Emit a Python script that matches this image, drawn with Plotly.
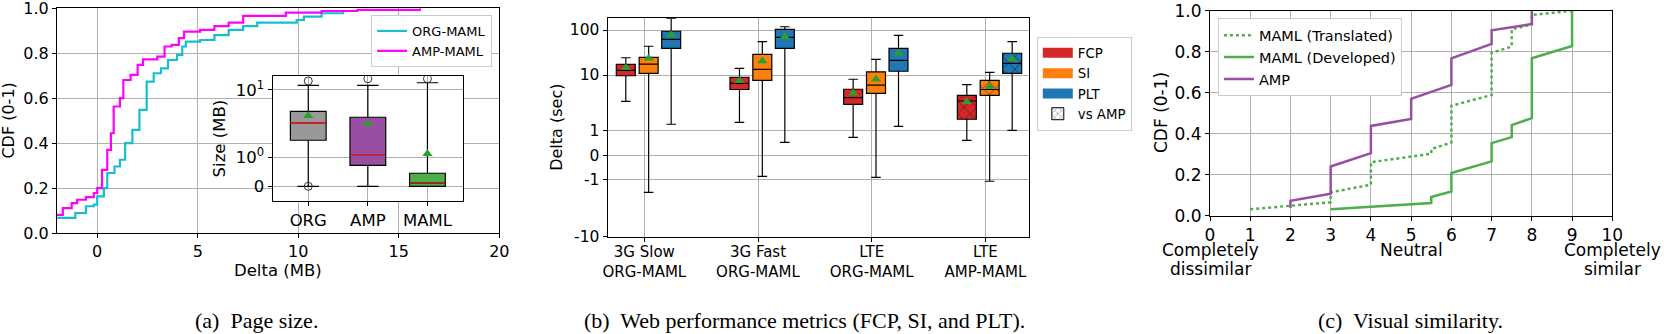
import numpy as np
import plotly.graph_objects as go

W, H = 1664, 334
FONT = "DejaVu Sans"
SERIF = "Liberation Serif"

# ---------------- panel (a): CDF of page-size delta ----------------
org_x = [-2.0, -1.36, -1.09, -0.56, -0.17, 0.0, 0.33, 0.5, 0.86, 1.13, 1.39, 1.75, 2.1, 2.46,
         2.81, 3.17, 3.52, 3.97, 4.23, 4.41, 5.12, 5.83, 6.54, 7.26, 7.96, 9.92, 10.28, 11.16, 12.23]
org_y = [0.067, 0.067, 0.089, 0.119, 0.126, 0.163, 0.2, 0.267, 0.296, 0.326, 0.4, 0.459, 0.548, 0.674,
         0.711, 0.733, 0.77, 0.793, 0.83, 0.852, 0.859, 0.881, 0.904, 0.921, 0.936, 0.948, 0.963, 0.978, 0.985]
amp_x = [-2.0, -1.71, -1.27, -1.0, -0.56, -0.17, 0.0, 0.24, 0.5, 0.68, 0.82, 1.13, 1.3, 1.66, 2.01,
         2.28, 2.99, 3.35, 3.7, 4.06, 4.32, 5.12, 5.83, 6.54, 7.26, 9.38, 11.16, 12.94, 16.05]
amp_y = [0.081, 0.111, 0.133, 0.148, 0.16, 0.178, 0.2, 0.281, 0.37, 0.444, 0.563, 0.6, 0.681, 0.704, 0.748,
         0.773, 0.785, 0.83, 0.837, 0.867, 0.896, 0.904, 0.921, 0.936, 0.966, 0.981, 0.988, 0.993, 1.0]
a_xticks = [0, 5, 10, 15, 20]

# inset: page size boxes (MB)
ins_cats = ["ORG", "AMP", "MAML"]
ins_colors = ["#999999", "#984ea3", "#4daf4a"]
ins_q1 = [1.79, 0.72, 0.0]
ins_med = [3.23, 1.07, 0.11]
ins_q3 = [4.82, 3.93, 0.45]
ins_lo = [0.0, 0.0, 0.0]
ins_hi = [11.7, 11.7, 12.8]
ins_mean = [4.15, 3.15, 1.13]
ins_out_cat = [1, 1, 2, 3]
ins_out_val = [0.0, 13.6, 14.7, 14.7]

# ---------------- panel (b): web performance metric deltas (sec) ----------------
groups = ["3G Slow<br>ORG-MAML", "3G Fast<br>ORG-MAML", "LTE<br>ORG-MAML", "LTE<br>AMP-MAML"]
metrics = ["FCP", "SI", "PLT"]
metric_colors = ["#d62728", "#ff7f0e", "#1f77b4"]
fcp_q1 = [9.7, 5.5, 2.98, 1.61]
fcp_med = [12.7, 7.1, 3.92, 3.42]
fcp_q3 = [17.3, 9.1, 5.55, 4.33]
fcp_lo = [3.38, 1.42, 0.73, 0.61]
fcp_hi = [24.2, 14.1, 8.4, 6.7]
fcp_mean = [14.5, 7.9, 4.7, 3.3]
si_q1 = [10.9, 8.0, 4.7, 4.33]
si_med = [17.5, 13.4, 6.6, 5.5]
si_q3 = [24.7, 28.8, 11.7, 8.0]
si_lo = [-1.66, -0.86, -0.9, -1.06]
si_hi = [43.5, 55.0, 22.3, 11.4]
si_mean = [23.5, 20.5, 8.4, 6.2]
plt_q1 = [39.2, 39.2, 12.1, 10.9]
plt_med = [62.1, 68.8, 21.2, 18.2]
plt_q3 = [93.9, 103.6, 39.2, 30.4]
plt_lo = [1.31, 0.53, 1.2, 1.02]
plt_hi = [180.0, 118.0, 76.0, 55.0]
plt_mean = [77.0, 71.0, 30.4, 22.7]
hatched_group = 3
b_ticks = [-10, -1, 0, 1, 10, 100]

# ---------------- panel (c): visual similarity CDF ----------------
trans_x = [1, 2, 3, 3, 4, 4, 5, 5.5, 5.5, 6, 6, 7, 7, 7.5, 7.5, 8, 8, 9]
trans_y = [0.032, 0.049, 0.065, 0.114, 0.151, 0.261, 0.286, 0.302, 0.325, 0.357, 0.536, 0.589,
           0.795, 0.825, 0.909, 0.933, 0.979, 1.0]
dev_x = [3, 5.5, 5.5, 6, 6, 7, 7, 7.5, 7.5, 8, 8, 9, 9]
dev_y = [0.032, 0.062, 0.091, 0.118, 0.208, 0.265, 0.354, 0.383, 0.442, 0.476, 0.768, 0.828, 1.0]
ampc_x = [2, 2, 3, 3, 4, 4, 5, 5, 6, 6, 7, 7, 8, 8]
ampc_y = [0.037, 0.073, 0.107, 0.24, 0.305, 0.438, 0.472, 0.57, 0.638, 0.768, 0.838, 0.904, 0.935, 1.0]
c_ticks = list(range(0, 11))


# ---------------- axis transforms (symmetric-log style scales) ----------------
def tb(v):
    a = abs(v)
    if a <= 1:
        return 24.5 * v
    if v > 0:
        lg = np.log10(a)
        return 24.5 + 55.8 * min(lg, 1.0) + 45.0 * max(lg - 1.0, 0.0)
    return -(24.5 + 56.9 * np.log10(a))


def ti(v):
    a = abs(v)
    if a <= 1:
        return 0.431 * v
    return np.sign(v) * (0.431 + np.log10(a))


def px(x):
    return x / W


def py(y):
    return 1 - y / H


fig = go.Figure()

# panel (a) lines
fig.add_trace(go.Scatter(x=org_x, y=org_y, mode="lines", name="ORG-MAML",
                         line=dict(color="#17becf", width=2.2, shape="hv"),
                         xaxis="x", yaxis="y", legend="legend"))
fig.add_trace(go.Scatter(x=amp_x, y=amp_y, mode="lines", name="AMP-MAML",
                         line=dict(color="#ff00ff", width=2.2, shape="hv"),
                         xaxis="x", yaxis="y", legend="legend"))

# inset boxes
for i, c in enumerate(ins_cats):
    fig.add_trace(go.Box(x=[i + 1], q1=[ti(ins_q1[i])], median=[ti(ins_med[i])], q3=[ti(ins_q3[i])],
                         lowerfence=[ti(ins_lo[i])], upperfence=[ti(ins_hi[i])],
                         width=0.6, whiskerwidth=0.6, fillcolor=ins_colors[i],
                         line=dict(color="black", width=1.2), boxpoints=False,
                         showlegend=False, xaxis="x2", yaxis="y2", hoverinfo="skip"))
med_x, med_y = [], []
for i in range(len(ins_cats)):
    med_x += [i + 1 - 0.3, i + 1 + 0.3, None]
    med_y += [ti(ins_med[i]), ti(ins_med[i]), None]
fig.add_trace(go.Scatter(x=med_x, y=med_y, mode="lines", line=dict(color="#e41a1c", width=1.3),
                         showlegend=False, xaxis="x2", yaxis="y2"))
fig.add_trace(go.Scatter(x=[1, 2, 3], y=[ti(v) for v in ins_mean], mode="markers",
                         marker=dict(symbol="triangle-up", size=9, color="#2ca02c"),
                         showlegend=False, xaxis="x2", yaxis="y2"))
fig.add_trace(go.Scatter(x=ins_out_cat, y=[ti(v) for v in ins_out_val], mode="markers",
                         marker=dict(symbol="circle-open", size=8, color="#333333", line=dict(width=1)),
                         showlegend=False, xaxis="x2", yaxis="y2"))

# panel (b) boxes
offsets = [-0.163, 0.038, 0.236]
bw = 0.167
stats = [
    (fcp_q1, fcp_med, fcp_q3, fcp_lo, fcp_hi, fcp_mean),
    (si_q1, si_med, si_q3, si_lo, si_hi, si_mean),
    (plt_q1, plt_med, plt_q3, plt_lo, plt_hi, plt_mean),
]
for m, (q1, med, q3, lo, hi, mean) in enumerate(stats):
    col = metric_colors[m]
    plain = [g for g in range(len(groups)) if g != hatched_group]
    g = hatched_group
    # hatched fill (bars support fill patterns)
    fig.add_trace(go.Bar(x=[g + offsets[m]], base=[tb(q1[g])], y=[tb(q3[g]) - tb(q1[g])], width=bw,
                         marker=dict(color=col, line=dict(width=0),
                                     pattern=dict(shape="x", fgcolor="#111111", bgcolor=col,
                                                  size=9, solidity=0.2, fillmode="overlay")),
                         showlegend=False, xaxis="x3", yaxis="y3", hoverinfo="skip"))
    fig.add_trace(go.Box(x=[g + offsets[m] for g in plain],
                         q1=[tb(q1[g]) for g in plain], median=[tb(med[g]) for g in plain],
                         q3=[tb(q3[g]) for g in plain], lowerfence=[tb(lo[g]) for g in plain],
                         upperfence=[tb(hi[g]) for g in plain],
                         width=bw, whiskerwidth=0.5, fillcolor=col, line=dict(color="black", width=1.2),
                         boxpoints=False, showlegend=False, xaxis="x3", yaxis="y3", hoverinfo="skip"))
    fig.add_trace(go.Box(x=[g + offsets[m]], q1=[tb(q1[g])], median=[tb(med[g])], q3=[tb(q3[g])],
                         lowerfence=[tb(lo[g])], upperfence=[tb(hi[g])],
                         width=bw, whiskerwidth=0.5, fillcolor="rgba(0,0,0,0)",
                         line=dict(color="black", width=1.2),
                         boxpoints=False, showlegend=False, xaxis="x3", yaxis="y3", hoverinfo="skip"))
    fig.add_trace(go.Scatter(x=[g + offsets[m] for g in range(len(groups))], y=[tb(v) for v in mean],
                             mode="markers", marker=dict(symbol="triangle-up", size=9, color="#2ca02c"),
                             showlegend=False, xaxis="x3", yaxis="y3"))
# legend entries for (b): wide colour swatches
for m, name in enumerate(metrics):
    fig.add_trace(go.Scatter(x=[None], y=[None], name=name, mode="lines",
                             line=dict(color=metric_colors[m], width=10),
                             xaxis="x3", yaxis="y3", legend="legend2"))
fig.add_trace(go.Bar(x=[None], y=[None], name="vs AMP",
                     marker=dict(color="white", line=dict(color="black", width=1),
                                 pattern=dict(shape="x", fgcolor="#444444", bgcolor="white", size=6,
                                              solidity=0.3, fillmode="overlay")),
                     xaxis="x3", yaxis="y3", legend="legend2"))

# panel (c)
fig.add_trace(go.Scatter(x=trans_x, y=trans_y, mode="lines", name="MAML (Translated)",
                         line=dict(color="#4daf4a", width=2.5, dash="dot"),
                         xaxis="x4", yaxis="y4", legend="legend3"))
fig.add_trace(go.Scatter(x=dev_x, y=dev_y, mode="lines", name="MAML (Developed)",
                         line=dict(color="#4daf4a", width=2.5),
                         xaxis="x4", yaxis="y4", legend="legend3"))
fig.add_trace(go.Scatter(x=ampc_x, y=ampc_y, mode="lines", name="AMP",
                         line=dict(color="#984ea3", width=2.5),
                         xaxis="x4", yaxis="y4", legend="legend3"))

axis_common = dict(showline=True, mirror=True, linecolor="black", linewidth=1, ticks="outside",
                   ticklen=4, tickcolor="black", showgrid=True, gridcolor="#b0b0b0", gridwidth=1,
                   zeroline=False, automargin=False, ticklabeloverflow="allow",
                   tickfont=dict(family=FONT, size=16, color="black"))

fig.update_layout(
    template="none",
    width=W, height=H, margin=dict(l=0, r=0, t=0, b=0, pad=0), autosize=False,
    paper_bgcolor="white", plot_bgcolor="white",
    font=dict(family=FONT, color="black"),
    boxmode="overlay", barmode="overlay",
    xaxis=dict(axis_common, domain=[px(57), px(499.3)], range=[-2, 20], tickvals=a_xticks, anchor="y"),
    yaxis=dict(axis_common, domain=[py(233), py(8.3)], range=[0, 1], tickvals=[0, 0.2, 0.4, 0.6, 0.8, 1.0],
               tickformat=".1f", anchor="x"),
    xaxis2=dict(axis_common, domain=[px(272.5), px(463.2)], range=[0.4, 3.6], tickvals=[1, 2, 3],
                ticktext=ins_cats, anchor="y2", tickfont=dict(family=FONT, size=16.5, color="black")),
    yaxis2=dict(axis_common, domain=[py(201.3), py(76.3)], range=[-0.223, 1.634],
                tickvals=[ti(0), ti(1), ti(10)], ticktext=["0", "10<sup>0</sup>", "10<sup>1</sup>"],
                anchor="x2", tickfont=dict(family=FONT, size=16.5, color="black")),
    xaxis3=dict(axis_common, domain=[px(607.5), px(1029)], range=[-0.324, 3.384], tickvals=[0, 1, 2, 3],
                ticktext=groups, anchor="y3", ticklabelstandoff=-3,
                tickfont=dict(family=FONT, size=15, color="black")),
    yaxis3=dict(axis_common, domain=[py(237.3), py(18.3)], range=[-82, 137],
                tickvals=[tb(v) for v in b_ticks], ticktext=[str(v) for v in b_ticks], anchor="x3",
                tickfont=dict(family=FONT, size=15.5, color="black")),
    xaxis4=dict(axis_common, domain=[px(1210), px(1612.3)], range=[0, 10], tickvals=c_ticks, anchor="y4",
                tickfont=dict(family=FONT, size=17, color="black")),
    yaxis4=dict(axis_common, domain=[py(215.7), py(10.7)], range=[0, 1], tickvals=[0, 0.2, 0.4, 0.6, 0.8, 1.0],
                tickformat=".1f", anchor="x4", tickfont=dict(family=FONT, size=17, color="black")),
    legend=dict(x=px(492.1), xanchor="right", y=py(15), yanchor="top", bgcolor="white",
                bordercolor="#cccccc", borderwidth=1, font=dict(family=FONT, size=13, color="black")),
    legend2=dict(x=px(1036.8), xanchor="left", y=py(36.7), yanchor="top", bgcolor="white",
                 bordercolor="#cccccc", borderwidth=1, font=dict(family=FONT, size=13.3, color="black")),
    legend3=dict(x=px(1217.9), xanchor="left", y=py(18.3), yanchor="top", bgcolor="white",
                 bordercolor="#cccccc", borderwidth=1, font=dict(family=FONT, size=14.5, color="black")),
)

ann = []


def add_text(text, x, y, size, angle=0, family=FONT, xanchor="center"):
    ann.append(dict(text=text, x=px(x), y=py(y), xref="paper", yref="paper", showarrow=False,
                    xanchor=xanchor, yanchor="middle", textangle=angle,
                    font=dict(family=family, size=size, color="black")))


add_text("CDF (0-1)", 9, 120.6, 16, -90)
add_text("Delta (MB)", 278, 270, 16.5)
add_text("Size (MB)", 219.6, 138.8, 16.5, -90)
add_text("Delta (sec)", 557, 127.8, 16, -90)
add_text("CDF (0-1)", 1161, 113, 17, -90)
# descriptive labels under panel (c) ticks
for xv, lines in [(0, ["Completely", "dissimilar"]), (5, ["Neutral"]), (10, ["Completely", "similar"])]:
    for k, t in enumerate(lines):
        ann.append(dict(text=t, x=xv, y=py(250 + 18.5 * k), xref="x4", yref="paper", showarrow=False,
                        xanchor="center", yanchor="middle", font=dict(family=FONT, size=17, color="black")))
add_text("(a)&nbsp; Page size.", 256.3, 320, 22, family=SERIF)
add_text("(b)&nbsp; Web performance metrics (FCP, SI, and PLT).", 804.6, 320, 22, family=SERIF)
add_text("(c)&nbsp; Visual similarity.", 1410, 320, 22, family=SERIF)
fig.update_layout(annotations=ann)

fig.write_html("out.html", config={"displayModeBar": False},
               post_script="document.body.style.margin='0px';document.body.style.overflow='hidden';")
